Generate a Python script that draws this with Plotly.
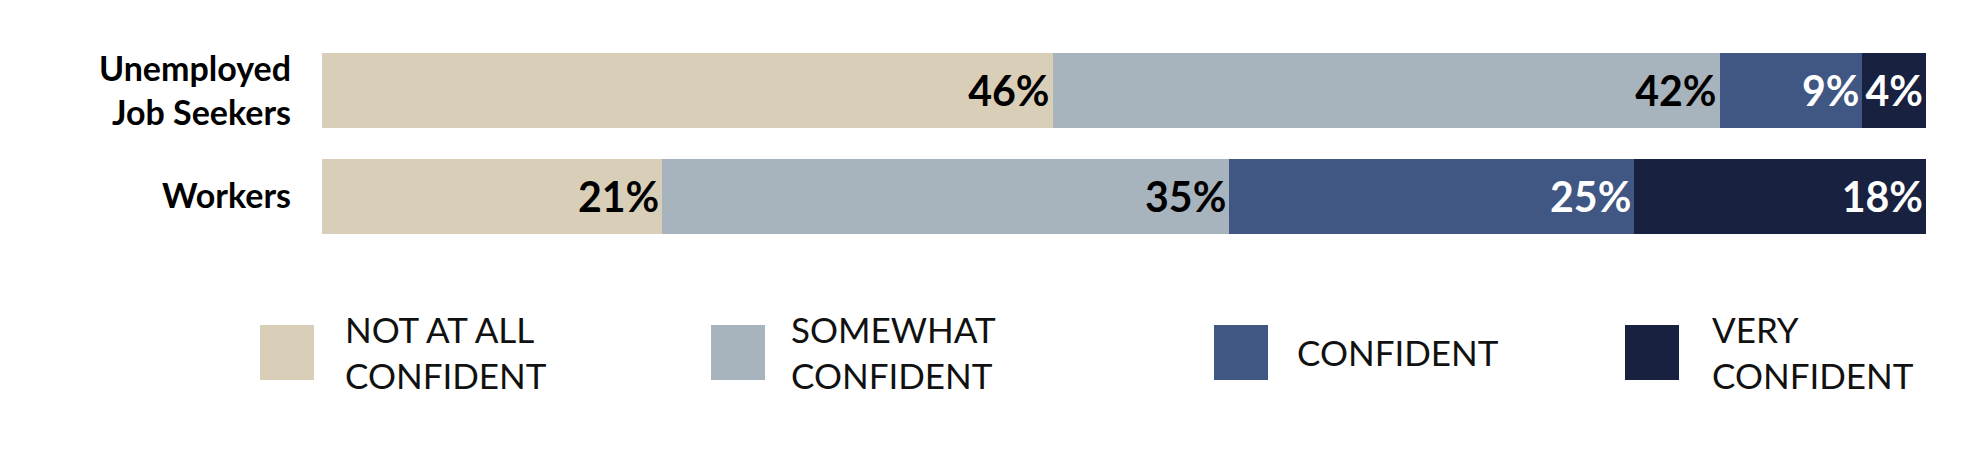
import plotly.graph_objects as go

groups = ["Unemployed<br>Job Seekers", "Workers"]
levels = ["NOT AT ALL<br>CONFIDENT", "SOMEWHAT<br>CONFIDENT", "CONFIDENT", "VERY<br>CONFIDENT"]
colors = ["#d9cfb8", "#a8b4bd", "#405683", "#18213f"]
text_colors = ["black", "black", "white", "white"]
not_at_all = [46, 21]
somewhat = [42, 35]
confident = [9, 25]
very = [4, 18]
series = [not_at_all, somewhat, confident, very]

W, H = 1986, 450
L, R, T, B = 314, 68, 30, 209
PW, PH = W - L - R, H - T - B


def px(x):
    return (x - L) / PW


def py(y):
    return (H - B - y) / PH


fig = go.Figure()
for name, vals, col, tc in zip(levels, series, colors, text_colors):
    fig.add_trace(go.Bar(
        y=groups, x=vals, orientation="h", name=name,
        marker=dict(color=col, line=dict(width=0)),
        text=[f"{v}%" for v in vals], textposition="inside",
        insidetextanchor="end", textangle=0,
        insidetextfont=dict(color=tc, size=42, family="Lato", weight="bold"),
        cliponaxis=False,
    ))

# legend drawn by hand (big squares, two-line labels)
sq_x = [252, 703, 1206, 1617]
txt_x = [335, 781, 1287, 1702]
for name, col, sx, tx in zip(levels, colors, sq_x, txt_x):
    fig.add_shape(type="rect", xref="paper", yref="paper",
                  x0=px(sx), x1=px(sx + 54), y0=py(317), y1=py(372),
                  fillcolor=col, line_width=0)
    fig.add_annotation(xref="paper", yref="paper", x=px(tx), y=py(344),
                       xanchor="left", yanchor="middle", align="left",
                       text=name, showarrow=False,
                       font=dict(size=35, family="Lato", color="#111"))

fig.update_layout(
    width=W, height=H, barmode="stack", barnorm="percent", bargap=0.29,
    margin=dict(l=L, r=R, t=T, b=B), showlegend=False,
    plot_bgcolor="white", paper_bgcolor="white",
    xaxis=dict(visible=False),
    yaxis=dict(autorange="reversed", showgrid=False, ticks="", ticklabelstandoff=30,
               tickfont=dict(size=34, family="Lato", color="black", weight="bold")),
    uniformtext=dict(minsize=10, mode="show"),
)
fig.write_html("out.html")
